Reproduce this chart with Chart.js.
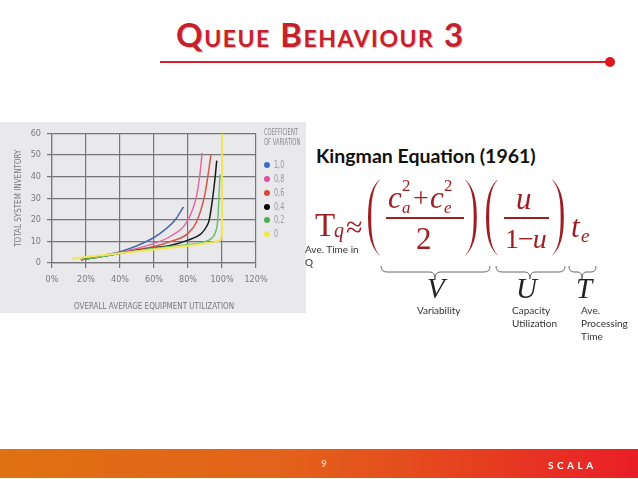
<!DOCTYPE html>
<html>
<head>
<meta charset="utf-8">
<script src="https://cdn.jsdelivr.net/npm/chart.js@4.4.0/dist/chart.umd.min.js"></script>
<style>
html,body{margin:0;padding:0;}
body{width:638px;height:479px;position:relative;overflow:hidden;background:#fff;font-family:Lato,"Open Sans",sans-serif;}
.abs{position:absolute;white-space:nowrap;line-height:1;}
#title{left:176px;top:18px;font-weight:bold;font-size:33px;letter-spacing:1.5px;color:#c8202b;font-variant:small-caps;text-shadow:1px 1px 1px rgba(0,0,0,0.25);}
#rule{left:160px;top:61px;width:450px;height:2px;background:#d4202a;}
#ruleDot{left:605px;top:57px;width:10px;height:10px;border-radius:50%;background:#e0161f;}
#panel{left:0;top:122px;width:306px;height:191px;background:#e9e9eb;overflow:hidden;}
#panel canvas{position:absolute;left:0;top:0;}
.leg{position:absolute;white-space:nowrap;font-family:"Liberation Sans Narrow","DejaVu Sans Condensed",sans-serif;color:#8a8a8a;font-size:8px;line-height:1;transform:scaleX(0.72);transform-origin:0 0;}
.dot{position:absolute;width:6px;height:6px;border-radius:50%;}
#heading{left:316px;top:146px;font-weight:bold;font-size:19.5px;color:#111;}
.m{position:absolute;white-space:nowrap;line-height:1;font-family:"Liberation Serif","DejaVu Serif",serif;color:#9e1f23;}
.i{font-style:italic;}
.par{position:absolute;line-height:1;font-family:"Liberation Serif","DejaVu Serif",serif;color:#9e1f23;font-size:44px;transform:scale(1.15,2);transform-origin:0 0;-webkit-text-stroke:1.3px #fff;}
.bar{position:absolute;height:1.6px;background:#9e1f23;}
.lbl{position:absolute;white-space:nowrap;font-size:10px;line-height:13px;color:#333;}
.big{position:absolute;line-height:1;font-family:"Liberation Serif","DejaVu Serif",serif;font-style:italic;color:#222;font-size:29px;}
#footer{left:0;top:449px;width:638px;height:29px;background:linear-gradient(to right,#df7112 0%,#e3621a 45%,#e5451f 70%,#ea1e27 100%);}
#pageNo{left:321px;top:458px;font-size:10px;font-weight:bold;color:#f6c9a8;}
#brand{left:548px;top:460px;font-size:10px;font-weight:bold;color:#fff;letter-spacing:3.5px;}
</style>
</head>
<body>
<div class="abs" id="title">Queue Behaviour 3</div>
<div class="abs" id="rule"></div>
<div class="abs" id="ruleDot"></div>

<div class="abs" id="panel">
  <canvas id="chart" width="306" height="191"></canvas>
  <div class="leg" style="left:264px;top:7px;">COEFFICIENT</div>
  <div class="leg" style="left:264px;top:17px;">OF VARIATION</div>
  <div id="legendItems"></div>
</div>

<div class="abs" id="heading">Kingman Equation (1961)</div>

<!-- formula -->
<span class="m" style="left:315px;top:209px;font-size:33px;">T</span>
<span class="m i" style="left:334px;top:220px;font-size:20px;">q</span>
<span class="m" style="left:346px;top:212px;font-size:30px;">≈</span>
<span class="par" style="left:365px;top:167px;">(</span>
<span class="m i" style="left:388px;top:182px;font-size:31px;">c</span>
<span class="m" style="left:402px;top:177px;font-size:17px;">2</span>
<span class="m i" style="left:402px;top:199px;font-size:17px;">a</span>
<span class="m" style="left:413px;top:184px;font-size:28px;">+</span>
<span class="m i" style="left:430px;top:182px;font-size:31px;">c</span>
<span class="m" style="left:444px;top:177px;font-size:17px;">2</span>
<span class="m i" style="left:444px;top:199px;font-size:17px;">e</span>
<div class="bar" style="left:386px;top:217px;width:78px;"></div>
<span class="m" style="left:416px;top:223px;font-size:31px;">2</span>
<span class="par" style="left:463px;top:167px;">)</span>
<span class="par" style="left:483px;top:167px;">(</span>
<span class="m i" style="left:516px;top:183px;font-size:31px;">u</span>
<div class="bar" style="left:504px;top:217px;width:45px;"></div>
<span class="m" style="left:505px;top:225px;font-size:28px;letter-spacing:-1px;">1−<span class="i">u</span></span>
<span class="par" style="left:550px;top:167px;">)</span>
<span class="m i" style="left:571px;top:211px;font-size:31px;">t</span>
<span class="m i" style="left:581px;top:226px;font-size:19px;">e</span>

<svg class="abs" style="left:0;top:0;" width="638" height="479">
  <g fill="none" stroke="#666" stroke-width="1">
    <path d="M381 266 Q381 272 387 272 L430 272 Q435 272 435 279 Q435 272 440 272 L484 272 Q490 272 490 266"/>
    <path d="M496 266 Q496 272 502 272 L525 272 Q530 272 530 279 Q530 272 535 272 L559 272 Q565 272 565 266"/>
    <path d="M569 266 Q569 272 574 272 L578 272 Q582 272 582 279 Q582 272 586 272 L591 272 Q596 272 596 266"/>
  </g>
</svg>
<span class="big" style="left:427px;top:274px;">V</span>
<span class="big" style="left:516px;top:274px;">U</span>
<span class="big" style="left:576px;top:274px;">T</span>

<div class="lbl" style="left:305px;top:243px;">Ave. Time in<br>Q</div>
<div class="lbl" style="left:417px;top:304px;">Variability</div>
<div class="lbl" style="left:512px;top:304px;">Capacity<br>Utilization</div>
<div class="lbl" style="left:581px;top:304px;">Ave.<br>Processing<br>Time</div>

<div class="abs" id="footer"></div>
<div class="abs" id="pageNo">9</div>
<div class="abs" id="brand">SCALA</div>

<script>
// axis ticks
const utilTicks = [0, 20, 40, 60, 80, 100, 120];
const inventoryTicks = [0, 10, 20, 30, 40, 50, 60];

// coefficient of variation series
const cvLabels = ["1,0", "0,8", "0,6", "0,4", "0,2", "0"];
const cvColors = ["#4a69ad", "#e26aa4", "#d9544b", "#1a1a1a", "#6cc06c", "#f1e55a"];
const dotColors = ["#3c6fc4", "#e0509f", "#d44b3b", "#000000", "#4caf50", "#f3e84a"];

const util10 = [17, 25, 32, 40, 50, 60, 67, 73, 77.3];
const inv10  = [1.5, 2.5, 3.8, 5.2, 8, 11.8, 15.8, 20.5, 26];
const util08 = [17, 25, 32, 40, 50, 60, 70, 80, 85, 87, 88.3];
const inv08  = [1.5, 2.5, 3.6, 4.7, 6.7, 9.1, 12.5, 20, 31, 41, 51];
const util06 = [17, 25, 32, 40, 50, 60, 70, 80, 85, 90, 93.5];
const inv06  = [1.5, 2.5, 3.5, 4.6, 6.1, 7.6, 10, 13.7, 19, 32, 50];
const util04 = [17, 25, 32, 40, 50, 60, 70, 80, 88, 91, 92.5, 94.5, 96, 96.9];
const inv04  = [1.5, 2.5, 3.4, 4.5, 5.8, 7, 8.2, 10.6, 13.8, 17, 20, 30, 40, 47.4];
const util02 = [17, 25, 40, 60, 80, 90, 94, 96, 97.5, 98.8];
const inv02  = [1.5, 2.4, 4.4, 6.8, 8.6, 9.9, 11.5, 14, 20, 41];
const util00 = [12, 20, 40, 60, 80, 95, 99, 100, 100];
const inv00  = [2, 2.8, 4.5, 6.3, 8, 9.6, 10.5, 13, 60];

const utils = [util10, util08, util06, util04, util02, util00];
const invs = [inv10, inv08, inv06, inv04, inv02, inv00];

const axisFont = { family: "'Liberation Sans Narrow','DejaVu Sans Condensed',sans-serif", size: 9 };
const gridColor = "#767676";

const datasets = cvLabels.map((label, i) => ({
  label,
  data: utils[i].map((x, j) => ({ x, y: invs[i][j] })),
  borderColor: cvColors[i],
  borderWidth: i === 5 ? 2 : 1.5,
  pointRadius: 0,
  fill: false,
  tension: i === 5 ? 0 : 0.4,
  cubicInterpolationMode: i === 5 ? "default" : "monotone"
})).reverse();

new Chart(document.getElementById("chart"), {
  type: "line",
  data: { datasets },
  options: {
    responsive: false,
    animation: false,
    devicePixelRatio: 1,
    layout: { padding: { top: 9, right: 50, bottom: 0, left: 0 } },
    plugins: { legend: { display: false }, tooltip: { enabled: false } },
    scales: {
      x: {
        type: "linear",
        min: utilTicks[0],
        max: utilTicks[utilTicks.length - 1],
        afterBuildTicks: s => { s.ticks = utilTicks.map(v => ({ value: v })); },
        afterFit: s => { s.height = 50; },
        ticks: { font: axisFont, color: "#7a7a7a", padding: 6, maxRotation: 0, callback: v => v + "%" },
        grid: { color: gridColor, lineWidth: 1.2, tickLength: 5 },
        border: { color: gridColor, width: 1.2 },
        title: {
          display: true, text: "OVERALL AVERAGE EQUIPMENT UTILIZATION",
          font: { family: axisFont.family, size: 8 }, color: "#7a7a7a",
          padding: { top: 0, bottom: 1 }
        }
      },
      y: {
        min: inventoryTicks[0],
        max: inventoryTicks[inventoryTicks.length - 1],
        afterBuildTicks: s => { s.ticks = inventoryTicks.map(v => ({ value: v })); },
        afterFit: s => { s.width = 52; },
        ticks: { font: axisFont, color: "#7a7a7a", padding: 6 },
        grid: { color: gridColor, lineWidth: 1.2, tickLength: 5 },
        border: { color: gridColor, width: 1.2 },
        title: {
          display: true, text: "TOTAL SYSTEM INVENTORY",
          font: { family: axisFont.family, size: 8 }, color: "#7a7a7a",
          padding: { top: 14, bottom: 0 }
        }
      }
    }
  }
});

// legend (html)
const legendTops = [43, 57, 71, 85, 98, 112];
const legendBox = document.getElementById("legendItems");
cvLabels.forEach((label, i) => {
  legendBox.innerHTML += `
    <div class="dot" style="left:264px;top:${legendTops[i] - 3}px;background:${dotColors[i]}"></div>
    <div class="leg" style="left:274px;top:${legendTops[i] - 5}px;font-size:10px;color:#9a9a9a">${label}</div>`;
});
</script>
</body>
</html>
